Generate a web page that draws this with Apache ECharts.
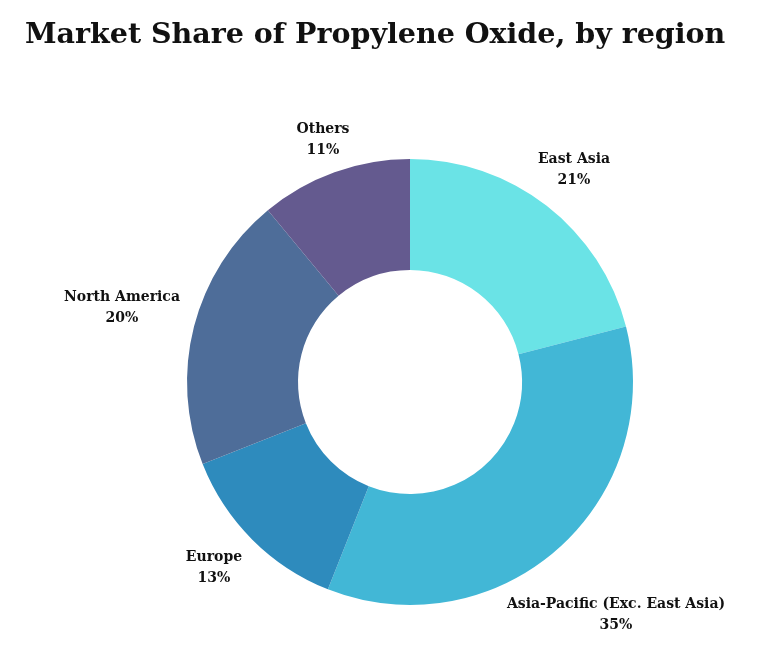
<!DOCTYPE html>
<html>
<head>
<meta charset="utf-8">
<script src="https://cdn.jsdelivr.net/npm/echarts@6/dist/echarts.min.js"></script>
</head>
<body style="margin:0;background:#fff">
<div id="main" style="width:768px;height:670px;"></div>
<script>
var regions = ['East Asia', 'Asia-Pacific (Exc. East Asia)', 'Europe', 'North America', 'Others'];
var shares = [21, 35, 13, 20, 11];
var colors = ['#6ae3e6', '#42b7d6', '#2e8bbd', '#4e6d99', '#645a8f'];

// label centre positions
var labelPos = [[574, 170], [616, 615], [214, 568], [122, 308], [323, 140]];

var chart = echarts.init(document.getElementById('main'));
chart.setOption({
    animation: false,
    title: {
        text: 'Market Share of Propylene Oxide, by region',
        left: 20, top: 16,
        textStyle: { fontFamily: 'DejaVu Serif', fontWeight: 'bold', fontSize: 28.5, color: '#111' }
    },
    series: [{
        type: 'pie',
        center: [410, 382],
        radius: [112, 223],
        startAngle: 90,
        clockwise: true,
        data: regions.map(function (r, i) {
            return { name: r, value: shares[i], itemStyle: { color: colors[i] } };
        }),
        label: {
            show: true,
            position: 'outside',
            formatter: '{b}\n{c}%',
            overflow: 'none',
            fontFamily: 'DejaVu Serif',
            fontWeight: 'bold',
            fontSize: 14,
            lineHeight: 21,
            color: '#111'
        },
        labelLine: { show: false },
        labelLayout: function (p) {
            var pos = labelPos[p.dataIndex];
            return { x: pos[0], y: pos[1], align: 'center', verticalAlign: 'middle' };
        }
    }]
});
</script>
</body>
</html>
